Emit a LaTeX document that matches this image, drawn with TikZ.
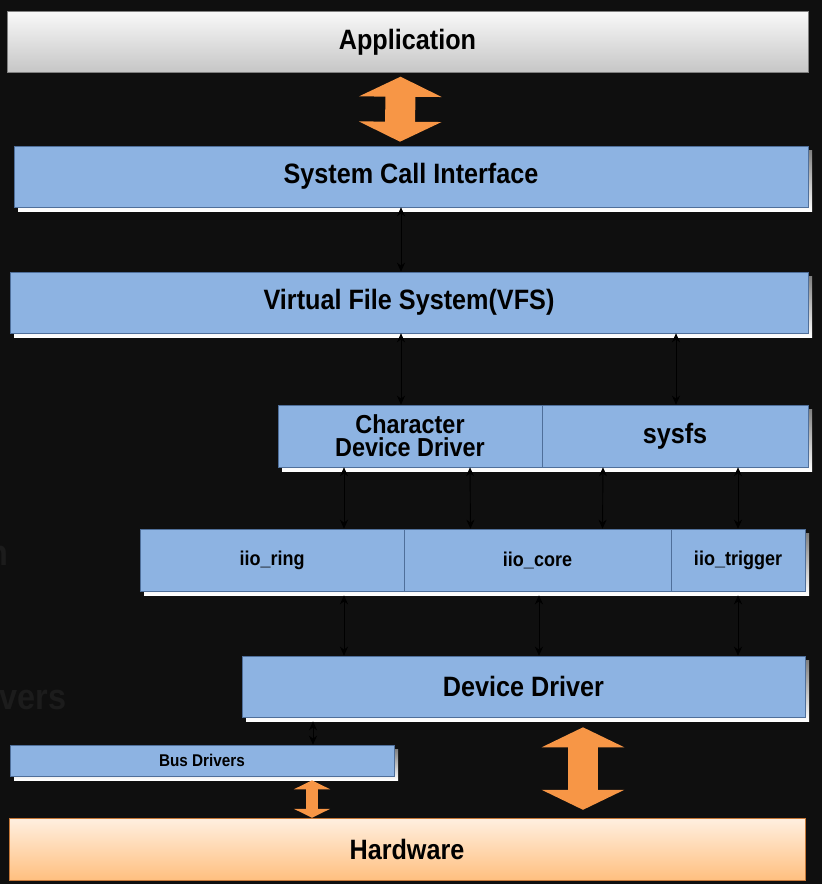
\documentclass[tikz,border=0pt]{standalone}
\usepackage{fontspec}
\setmainfont{Liberation Sans}[FakeStretch=0.9]
\usetikzlibrary{arrows.meta,calc}
\definecolor{bg}{HTML}{0F0F0F}
\definecolor{boxblue}{HTML}{8DB3E2}
\definecolor{boxline}{HTML}{4F6F9A}
\definecolor{shade}{HTML}{ECE8D8}
\definecolor{arrorange}{HTML}{F79646}
\definecolor{ghostgray}{HTML}{1C1C1C}
\begin{document}
\begin{tikzpicture}[x=1pt,y=-1pt,
  layer/.style={draw=boxline,fill=boxblue,line width=0.6pt,font=\bfseries\fontsize{28}{28}\selectfont},
  small/.style={font=\bfseries\fontsize{20}{20}\selectfont},
  thin/.style={black,line width=0.9pt,{Stealth[length=9pt,width=8pt]}-{Stealth[length=9pt,width=8pt]}},
  fat/.style={arrorange,line width=30pt,{Triangle[length=20pt,width=82pt]}-{Triangle[length=20pt,width=82pt]}},
  fatsmall/.style={arrorange,line width=12pt,{Triangle[length=9pt,width=36pt]}-{Triangle[length=9pt,width=36pt]}},
  ghost/.style={text=ghostgray,font=\bfseries\fontsize{36}{36}\selectfont}]
\fill[bg] (0,0) rectangle (822,884);
\useasboundingbox (0,0) rectangle (822,884);
% shadows
\foreach \a/\b/\c/\d in {14/146/808/207, 10/272/808/333, 278/405/542/467, 542/405/808/467,
  140/529/404/591, 404/529/671/591, 671/529/805/591, 242/656/805/717, 10/745/394/776}
  \fill[shade] (\a+4,\b+4) rectangle (\c+4,\d+4);
% left partial texts
\node[ghost,anchor=east] (gn) at (12,556) {n};
\node[ghost,anchor=east] (gv) at (70,700) {vers};
% layers
\node[draw=gray,top color=white!95!gray,bottom color=gray!45,minimum width=801pt,minimum height=61pt,inner sep=0pt,font=\bfseries\fontsize{28}{28}\selectfont] (app) at (407.5,42) {Application};
\node[layer,minimum width=794pt,minimum height=61pt,inner sep=0pt] (sci) at (411,176.5) {System Call Interface};
\node[layer,minimum width=798pt,minimum height=61pt,inner sep=0pt] (vfs) at (409,302.5) {Virtual File System(VFS)};
\node[layer,minimum width=264pt,minimum height=62pt,inner sep=0pt,align=center,font=\bfseries\fontsize{26}{23}\selectfont] (cdd) at (410,436) {Character\\Device Driver};
\node[layer,minimum width=266pt,minimum height=62pt,inner sep=0pt] (sysfs) at (675,436) {sysfs};
\node[layer,small,minimum width=264pt,minimum height=62pt,inner sep=0pt] (ring) at (272,560) {iio\_ring};
\node[layer,small,minimum width=267pt,minimum height=62pt,inner sep=0pt] (core) at (537.5,560) {iio\_core};
\node[layer,small,minimum width=134pt,minimum height=62pt,inner sep=0pt] (trig) at (738,560) {iio\_trigger};
\node[layer,minimum width=563pt,minimum height=61pt,inner sep=0pt] (dd) at (523.5,686.5) {Device Driver};
\node[layer,minimum width=384pt,minimum height=31pt,inner sep=0pt,font=\bfseries\fontsize{17}{17}\selectfont] (bus) at (202,760.5) {Bus Drivers};
\node[draw=arrorange!80!black,top color=orange!12,bottom color=orange!50!white,minimum width=796pt,minimum height=62pt,inner sep=0pt,font=\bfseries\fontsize{28}{28}\selectfont] (hw) at (407,849) {Hardware};
% connectors
\draw[fat] ($(app.south)+(-7,4)$) -- ($(sci.north)+(-11,-4)$);
\draw[thin] ($(sci.south)+(-10,0)$) -- ($(vfs.north)+(-8,0)$);
\draw[thin] ($(vfs.south)+(-8,0)$) -- ($(cdd.north)+(-9,0)$);
\draw[thin] (vfs.south -| sysfs.north) ++(1,0) -- ($(sysfs.north)+(1,0)$);
\draw[thin] ($(cdd.south)+(-66,0)$) -- ($(ring.north)+(72,0)$);
\draw[thin] ($(cdd.south)+(60,0)$) -- ($(core.north)+(-67,0)$);
\draw[thin] ($(sysfs.south)+(-72,0)$) -- ($(core.north)+(65,0)$);
\draw[thin] ($(sysfs.south)+(63,0)$) -- (trig.north);
\draw[thin] ($(ring.south)+(72,4)$) -- ($(dd.north)+(-179.5,0)$);
\draw[thin] ($(core.south)+(1.5,4)$) -- ($(dd.north)+(15.5,0)$);
\draw[thin] ($(trig.south)+(0,4)$) -- ($(dd.north)+(214.5,0)$);
\draw[thin] ($(dd.south)+(-210.5,4)$) -- ($(bus.north)+(111,0)$);
\draw[fatsmall] ($(bus.south)+(110,4)$) -- ($(hw.north)+(-95,0)$);
\draw[fat] ($(dd.south)+(59.5,10)$) -- ($(hw.north)+(176,-8)$);
\end{tikzpicture}
\end{document}
